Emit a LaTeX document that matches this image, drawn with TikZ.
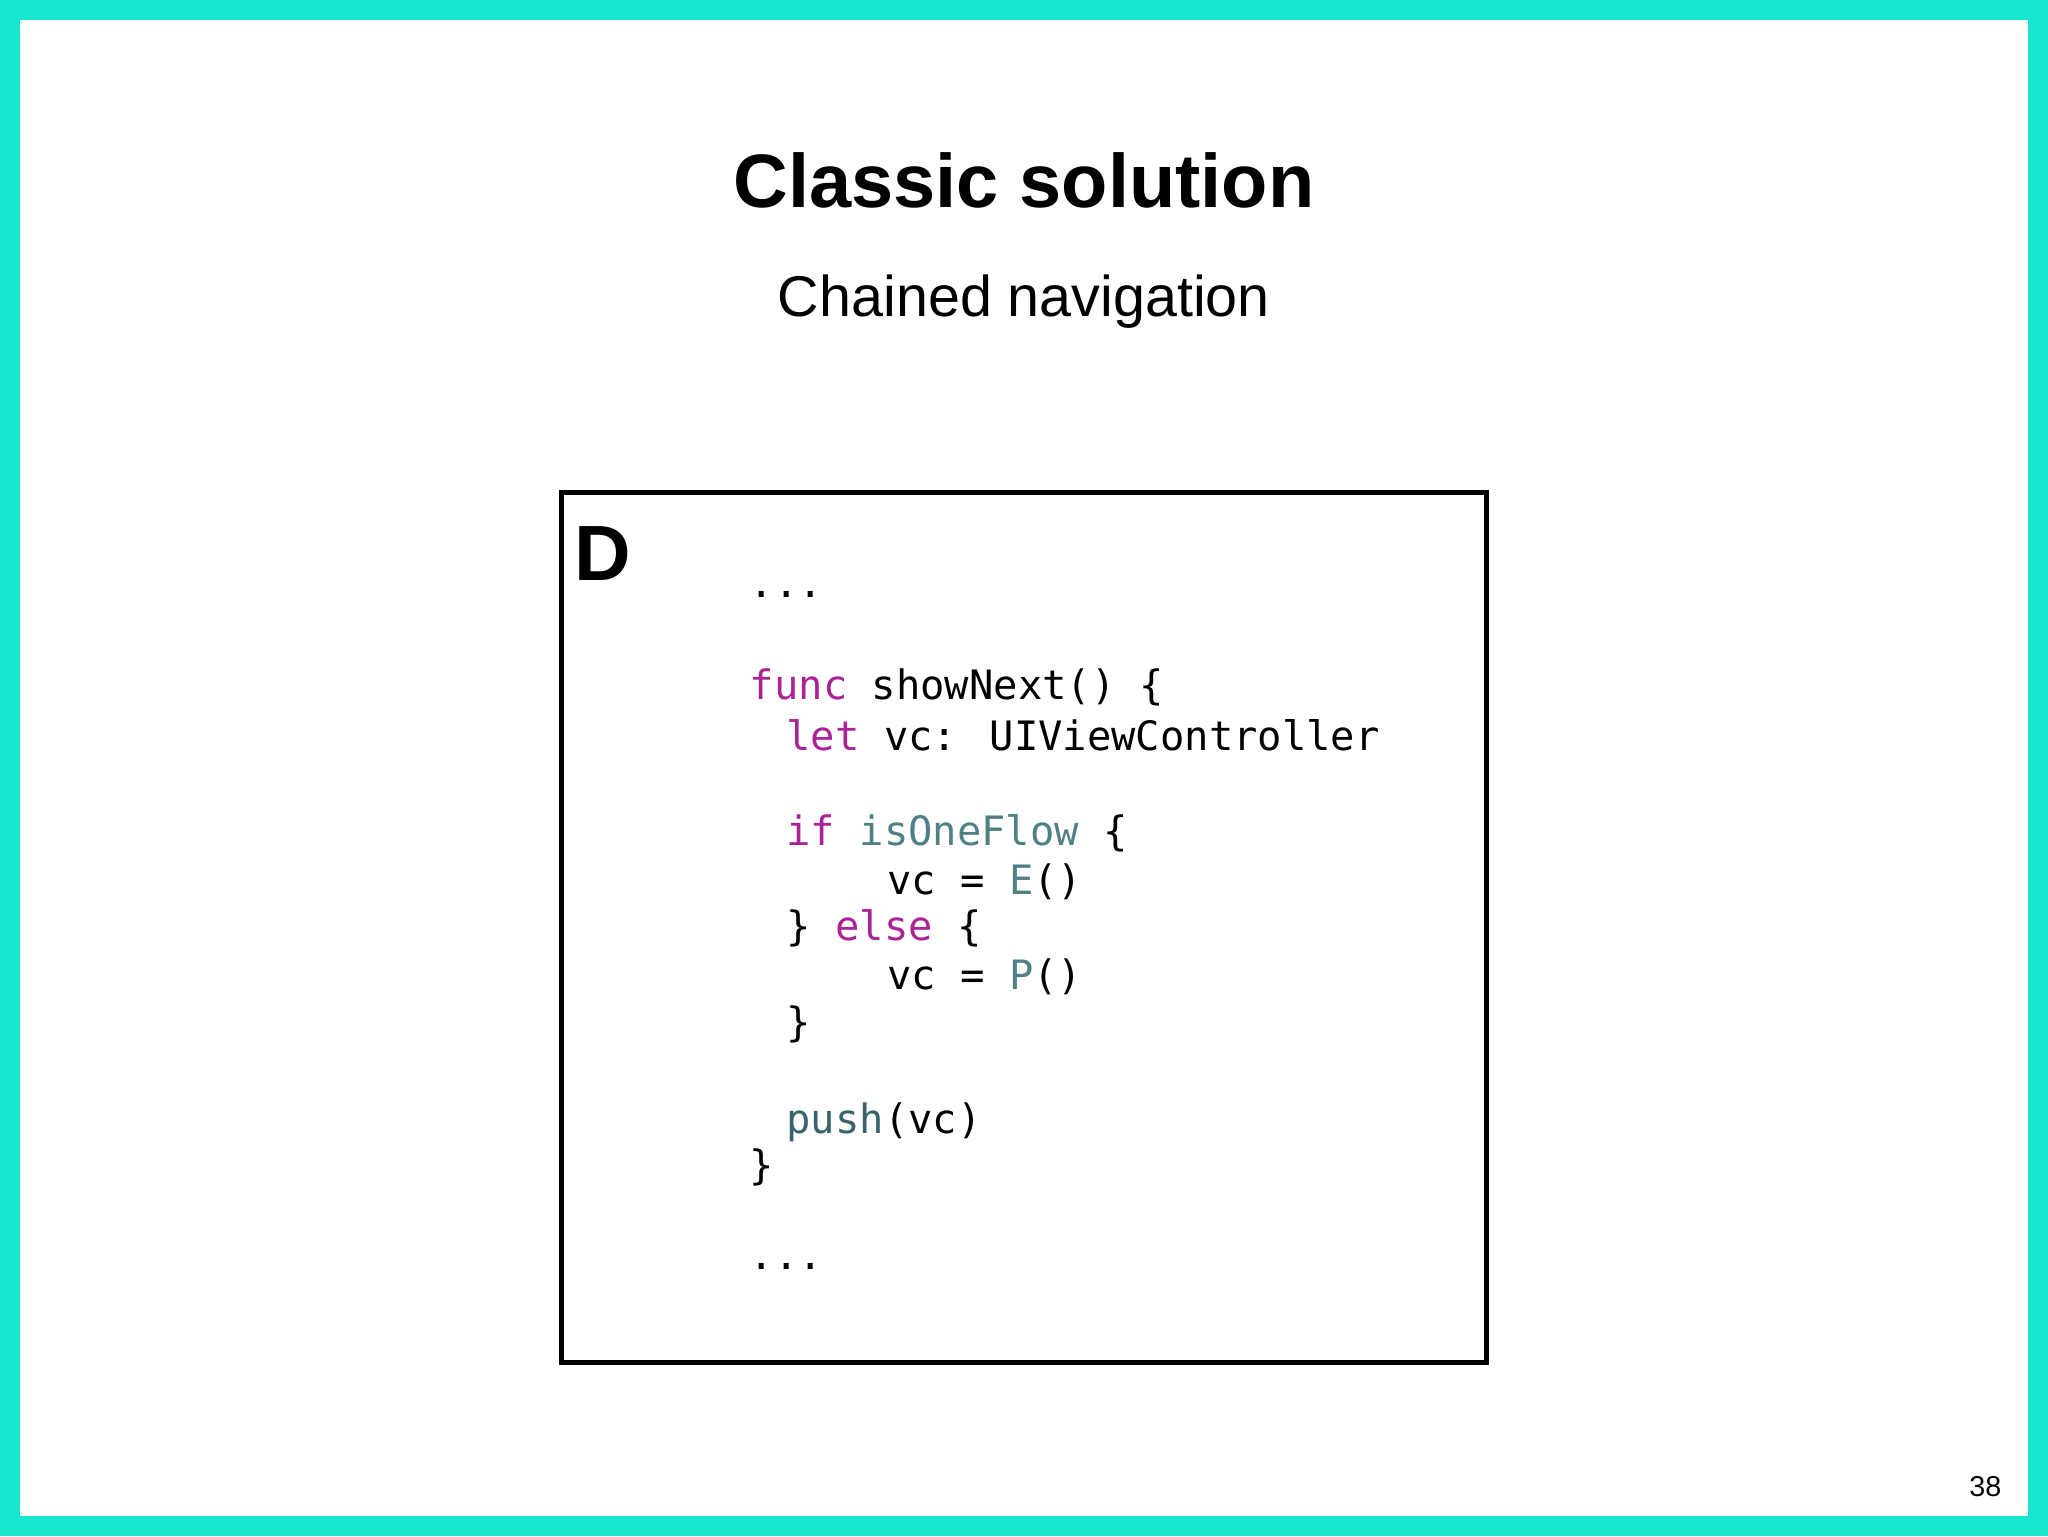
\documentclass[tikz,border=0pt]{standalone}
\usepackage{fontspec}
\setmainfont{Liberation Sans}
\newfontfamily\codefont{DejaVu Sans Mono}
\definecolor{frame}{RGB}{24,230,206}
\definecolor{kw}{RGB}{170,36,150}
\definecolor{ty}{RGB}{80,128,134}
\definecolor{fn}{RGB}{58,98,106}
\begin{document}
\begin{tikzpicture}[x=1pt,y=-1pt,
  code/.style={anchor=west,inner sep=0pt,font=\codefont\fontsize{31}{31}\selectfont},
  every node/.style={inner sep=0pt}]
\fill[frame] (0,0) rectangle (1568,1176);
\fill[white] (15,15) rectangle (1553,1161);
\node (title) at (784,138) {\fontsize{58}{58}\selectfont\bfseries Classic solution};
\node (sub) at (784,231) {\fontsize{44}{44}\selectfont Chained navigation};
\draw[line width=4pt] (430,377) rectangle (1138,1043);
\node[anchor=west] (D) at (440,424) {\fontsize{60}{60}\selectfont\bfseries D};
\node[code] (l1) at (574,455) {...};
\node[code] (l2) at (574,526) {\textcolor{kw}{func} showNext() \{};
\node[code] (l3) at (602,563) {\textcolor{kw}{let} vc: UIViewController};
\node[code] (l4) at (602,638) {\textcolor{kw}{if} \textcolor{ty}{isOneFlow} \{};
\node[code] (l5) at (679,675) {vc = \textcolor{ty}{E}()};
\node[code] (l6) at (602,711) {\} \textcolor{kw}{else} \{};
\node[code] (l7) at (679,748) {vc = \textcolor{ty}{P}()};
\node[code] (l8) at (602,784) {\}};
\node[code] (l9) at (602,859) {\textcolor{fn}{push}(vc)};
\node[code] (l10) at (574,894) {\}};
\node[code] (l11) at (574,970) {...};
\node (pg) at (1520,1138) {\fontsize{22}{22}\selectfont 38};
\end{tikzpicture}
\end{document}
